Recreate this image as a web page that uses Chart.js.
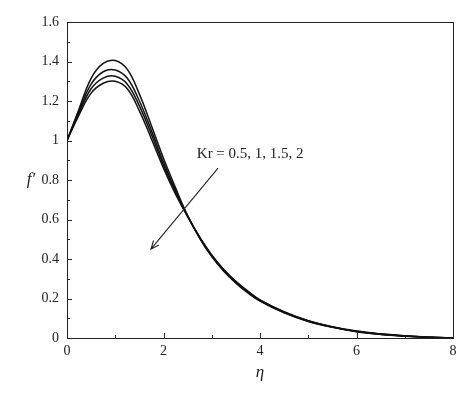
<!DOCTYPE html>
<html>
<head>
<meta charset="utf-8">
<title>f' against eta</title>
<script src="https://cdn.jsdelivr.net/npm/chart.js@4.4.0/dist/chart.umd.min.js"></script>
<style>
  body { margin: 0; background: #fff; }
  #wrap { width: 474px; height: 399px; }
</style>
</head>
<body>
<div id="wrap"><canvas id="fChart" width="474" height="399"></canvas></div>
<script>
// eta values (x) and f' for each Kr
var eta = [0, 0.25, 0.5, 0.75, 1, 1.25, 1.5, 1.75, 2, 2.25, 2.5, 2.75, 3, 3.25, 3.5, 3.75, 4, 4.5, 5, 5.5, 6, 6.5, 7, 7.5, 8];
var krLabels = ["Kr = 0.5", "Kr = 1", "Kr = 1.5", "Kr = 2"];
var fKr05 = [1, 1.16, 1.315, 1.39, 1.405, 1.36, 1.235, 1.075, 0.91, 0.76, 0.62, 0.505, 0.412, 0.338, 0.278, 0.228, 0.187, 0.127, 0.084, 0.054, 0.032, 0.018, 0.009, 0.003, 0];
var fKr1 = [1, 1.15, 1.285, 1.348, 1.357, 1.315, 1.2, 1.05, 0.89, 0.748, 0.618, 0.507, 0.415, 0.341, 0.281, 0.231, 0.189, 0.129, 0.085, 0.055, 0.033, 0.019, 0.01, 0.004, 0];
var fKr15 = [1, 1.14, 1.262, 1.316, 1.325, 1.285, 1.175, 1.03, 0.875, 0.738, 0.616, 0.509, 0.418, 0.344, 0.284, 0.234, 0.191, 0.131, 0.087, 0.056, 0.034, 0.02, 0.01, 0.004, 0];
var fKr2 = [1, 1.13, 1.24, 1.29, 1.30, 1.262, 1.15, 1.008, 0.86, 0.728, 0.614, 0.511, 0.421, 0.347, 0.287, 0.237, 0.193, 0.133, 0.088, 0.057, 0.035, 0.021, 0.011, 0.005, 0];
var yTicks = [0, 0.2, 0.4, 0.6, 0.8, 1, 1.2, 1.4, 1.6];
var xTicks = [0, 2, 4, 6, 8];

// annotation: label + arrow, given in data units
var noteText = "Kr = 0.5, 1, 1.5, 2";
var notePos = [2.69, 0.93];
var arrowFrom = [3.13, 0.86];
var arrowTo = [1.74, 0.45];

var serif = "'Liberation Serif', 'DejaVu Serif', serif";

function toPoints(ys) {
    var pts = [];
    for (var i = 0; i < eta.length; i++) {
        pts.push({ x: eta[i], y: ys[i] });
    }
    return pts;
}

var allSeries = [fKr05, fKr1, fKr15, fKr2];
var datasets = [];
for (var i = 0; i < allSeries.length; i++) {
    datasets.push({
        label: krLabels[i],
        data: toPoints(allSeries[i]),
        borderColor: "#111",
        borderWidth: 1.5,
        pointRadius: 0,
        fill: false,
        tension: 0.4
    });
}

// frame, inward ticks, axis titles and the Kr note
var decorPlugin = {
    id: "decor",
    afterDraw: function (chart) {
        var ctx = chart.ctx;
        var a = chart.chartArea;
        var xs = chart.scales.x;
        var ys = chart.scales.y;
        ctx.save();
        ctx.strokeStyle = "#222";
        ctx.lineWidth = 1;
        ctx.strokeRect(Math.round(a.left) + 0.5, Math.round(a.top) + 0.5, Math.round(a.right - a.left), Math.round(a.bottom - a.top));

        ctx.beginPath();
        for (var v = 0; v <= 16; v++) {
            var py = Math.round(ys.getPixelForValue(v / 10)) + 0.5;
            var len = (v % 2 === 0) ? 5 : 3;
            ctx.moveTo(a.left, py);
            ctx.lineTo(a.left + len, py);
        }
        for (var u = 0; u <= 8; u++) {
            var px = Math.round(xs.getPixelForValue(u)) + 0.5;
            var l2 = (u % 2 === 0) ? 5 : 3;
            ctx.moveTo(px, a.bottom);
            ctx.lineTo(px, a.bottom - l2);
        }
        ctx.stroke();

        // axis titles
        ctx.fillStyle = "#222";
        ctx.textAlign = "center";
        ctx.textBaseline = "middle";
        ctx.font = "italic 17px " + serif;
        ctx.fillText("\u03B7", (a.left + a.right) / 2, 373);
        ctx.fillText("f\u2032", 31, (a.top + a.bottom) / 2);

        // note and arrow
        ctx.font = "15px " + serif;
        ctx.textAlign = "left";
        ctx.fillText(noteText, xs.getPixelForValue(notePos[0]), ys.getPixelForValue(notePos[1]));
        var x1 = xs.getPixelForValue(arrowFrom[0]), y1 = ys.getPixelForValue(arrowFrom[1]);
        var x2 = xs.getPixelForValue(arrowTo[0]), y2 = ys.getPixelForValue(arrowTo[1]);
        var ang = Math.atan2(y2 - y1, x2 - x1);
        ctx.beginPath();
        ctx.moveTo(x1, y1);
        ctx.lineTo(x2, y2);
        ctx.moveTo(x2 - 9 * Math.cos(ang - 0.4), y2 - 9 * Math.sin(ang - 0.4));
        ctx.lineTo(x2, y2);
        ctx.lineTo(x2 - 9 * Math.cos(ang + 0.4), y2 - 9 * Math.sin(ang + 0.4));
        ctx.lineWidth = 1.1;
        ctx.stroke();
        ctx.restore();
    }
};

var ctx = document.getElementById("fChart").getContext("2d");
var chart = new Chart(ctx, {
    type: "line",
    data: { datasets: datasets },
    options: {
        responsive: false,
        animation: false,
        layout: { padding: { left: 0, top: 22, right: 21, bottom: 0 } },
        plugins: {
            legend: { display: false },
            tooltip: { enabled: false }
        },
        scales: {
            x: {
                type: "linear",
                min: 0,
                max: 8,
                afterBuildTicks: function (scale) {
                    scale.ticks = xTicks.map(function (v) { return { value: v }; });
                },
                afterFit: function (scale) { scale.height = 61; },
                grid: { display: false, drawTicks: false },
                border: { display: false },
                ticks: {
                    color: "#222",
                    padding: 5,
                    maxRotation: 0,
                    font: { family: serif, size: 14 },
                    callback: function (v) { return String(v); }
                }
            },
            y: {
                type: "linear",
                min: 0,
                max: 1.6,
                afterBuildTicks: function (scale) {
                    scale.ticks = yTicks.map(function (v) { return { value: v }; });
                },
                afterFit: function (scale) { scale.width = 67; },
                grid: { display: false, drawTicks: false },
                border: { display: false },
                ticks: {
                    color: "#222",
                    padding: 8,
                    font: { family: serif, size: 14 },
                    callback: function (v) { return String(Math.round(v * 10) / 10); }
                }
            }
        }
    },
    plugins: [decorPlugin]
});
</script>
</body>
</html>
